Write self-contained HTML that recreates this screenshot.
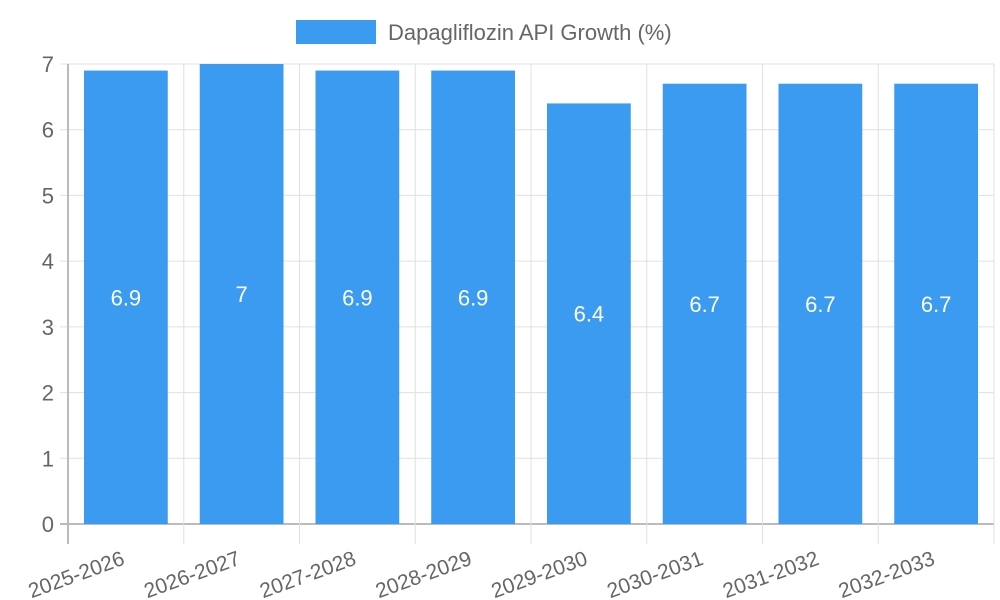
<!DOCTYPE html>
<html><head><meta charset="utf-8"><style>
body{margin:0;background:#fff;font-family:"Liberation Sans",sans-serif}
svg{display:block}
</style></head><body>
<svg id="c" width="1000" height="600">
<g>
<rect x="296" y="20" width="80" height="24" fill="#3a9bf0"/>
<text x="388" y="40" font-size="22" fill="#666">Dapagliflozin API Growth (%)</text>
</g>
</svg>
<script>
const categories=["2025-2026","2026-2027","2027-2028","2028-2029","2029-2030","2030-2031","2031-2032","2032-2033"];
const values=[6.9,7,6.9,6.9,6.4,6.7,6.7,6.7];
const yTicks=[0,1,2,3,4,5,6,7];
const svg=document.getElementById('c');const NS="http://www.w3.org/2000/svg";
const L=68,R=994,T=64,B=524,yMax=7;
const step=(R-L)/categories.length;
const y=v=>B-(v/yMax)*(B-T);
const x=i=>L+i*step;
function mk(t,a){const e=document.createElementNS(NS,t);for(const k in a)e.setAttribute(k,a[k]);svg.appendChild(e);return e;}
yTicks.forEach(v=>{
 const g=mk('line',{x1:L-8,x2:R,y1:y(v),y2:y(v),stroke:v===0?'#bbb':'#e0e0e0','stroke-width':v===0?2:1});
 
 
 const t=mk('text',{x:L-14,y:y(v)+8,'text-anchor':'end','font-size':22,fill:'#666'});t.textContent=v;
 
 
});
for(let i=0;i<=categories.length;i++){
 const g=mk('line',{x1:x(i),x2:x(i),y1:T,y2:B+20,stroke:i===0?'#bbb':'#e0e0e0','stroke-width':i===0?2:1});
 
 
}
categories.forEach((c,i)=>{
 const bx=x(i)+16,bw=step-32;
 const r=mk('rect',{x:bx,y:y(values[i]),width:bw,height:B-y(values[i]),fill:'#3a9bf0'});
 
 
 const cx=x(i)+step/2;
 const vt=mk('text',{x:cx,y:(y(values[i])+B)/2+8,'text-anchor':'middle','font-size':22,fill:'#fff'});vt.textContent=values[i];
 
 
 const lt=mk('text',{x:cx,y:B+40,'text-anchor':'end','font-size':21,fill:'#666',transform:`rotate(-20 ${cx} ${B+40})`});lt.textContent=c;
 
 
});
</script>
</body></html>
